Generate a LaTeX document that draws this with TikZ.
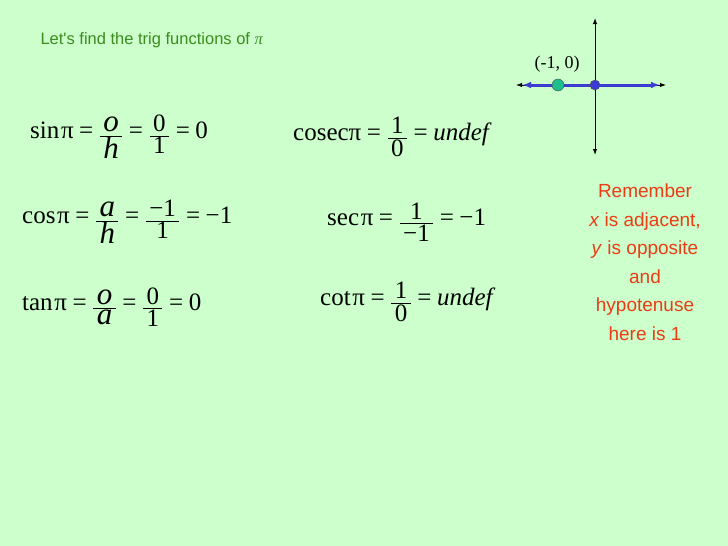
\documentclass[tikz,border=0pt]{standalone}
\usepackage{fontspec}
\usepackage{amsmath}
\setmainfont{Liberation Serif}
\newfontfamily\ssf{Liberation Sans}
\usetikzlibrary{arrows.meta}
\definecolor{bg}{RGB}{204,255,204}
\definecolor{ttl}{RGB}{60,140,30}
\definecolor{rem}{RGB}{235,60,20}
\definecolor{ax}{RGB}{60,60,210}
\definecolor{dot}{RGB}{30,190,140}
\newcommand{\bigvar}[1]{\text{\fontsize{31}{33}\selectfont\itshape #1}}
\newcommand{\tx}[1]{\text{\fontsize{25}{28}\selectfont #1}}
\newcommand{\eqs}{\mspace{10mu}\tx{=}\mspace{10mu}}
\newcommand{\fr}[2]{\dfrac{\mspace{6mu}#1\mspace{6mu}}{\mspace{6mu}#2\mspace{6mu}}}
\begin{document}
\begin{tikzpicture}[x=1pt,y=-1pt,
  eq/.style={anchor=west,inner sep=0pt},
  remtxt/.style={align=center,text=rem,font=\ssf\fontsize{19}{28.5}\selectfont}]
\fill[bg] (0,0) rectangle (728,546);
\useasboundingbox (0,0) rectangle (728,546);
\node[anchor=west,text=ttl,font=\ssf\fontsize{16.5}{18}\selectfont] (title) at (37,40) {Let's find the trig functions of \textrm{\textit{π}}};
% axes
\coordinate (vt) at (595,18); \coordinate (vb) at (595,155);
\coordinate (hl) at (516,85); \coordinate (hr) at (666,85);
\draw[line width=1pt,-{Latex[length=6pt]}] (595,85) -- (vt);
\draw[line width=1pt,-{Latex[length=6pt]}] (595,85) -- (vb);
\draw[line width=1pt,{Latex[length=6pt]}-{Latex[length=6pt]}] (hl) -- (hr);
\draw[ax,line width=3pt,{Latex[length=9pt]}-{Latex[length=9pt]}] (522,85) -- (660,85);
\node[circle,draw=black!70,fill=dot,minimum size=12pt,inner sep=0pt] (p) at (558,85) {};
\node[circle,draw=black!70,fill=ax,minimum size=10pt,inner sep=0pt] (o) at (595,85) {};
\node[font=\fontsize{18}{20}\selectfont] (pl) at (557,64) {(-1, 0)};
% equations
\node[eq] (e1) at (30,137) {$\tx{sin}\,\tx{π}\eqs\fr{\bigvar{o}}{\bigvar{h}}\eqs\fr{\tx{0}}{\tx{1}}\eqs\tx{0}$};
\node[eq] (e2) at (22,222) {$\tx{cos}\,\tx{π}\eqs\fr{\bigvar{a}}{\bigvar{h}}\eqs\fr{\tx{−1}}{\tx{1}}\eqs\tx{−1}$};
\node[eq] (e3) at (22,307) {$\tx{tan}\,\tx{π}\eqs\fr{\bigvar{o}}{\bigvar{a}}\eqs\fr{\tx{0}}{\tx{1}}\eqs\tx{0}$};
\node[eq] (e4) at (293,137) {$\tx{cosec}\tx{π}\eqs\fr{\tx{1}}{\tx{0}}\eqs\tx{\textit{undef}}$};
\node[eq] (e5) at (327,222) {$\tx{sec}\,\tx{π}\eqs\fr{\tx{1}}{\tx{−1}}\eqs\tx{−1}$};
\node[eq] (e6) at (320,302) {$\tx{cot}\,\tx{π}\eqs\fr{\tx{1}}{\tx{0}}\eqs\tx{\textit{undef}}$};
\node[remtxt] (r) at (645,262) {Remember\\\textit{x} is adjacent,\\\textit{y} is opposite\\and\\hypotenuse\\here is 1};
\end{tikzpicture}
\end{document}
